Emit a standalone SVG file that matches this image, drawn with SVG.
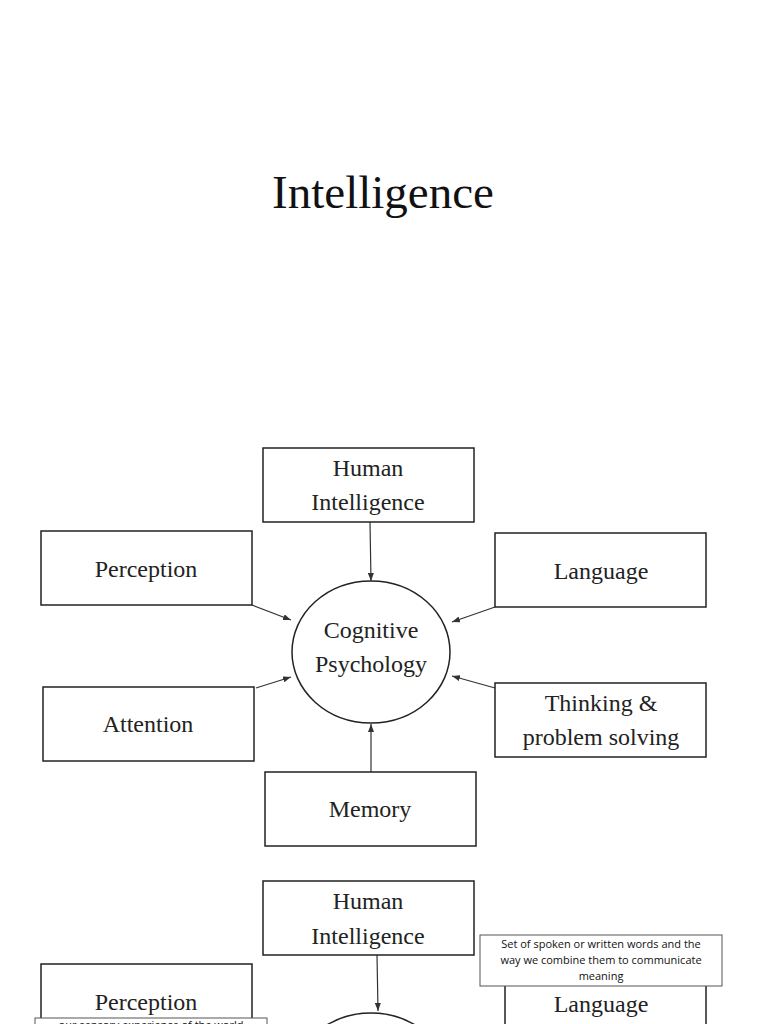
<svg xmlns="http://www.w3.org/2000/svg" width="768" height="1024" viewBox="0 0 768 1024">
<style>
.b{fill:#fff;stroke:#222;stroke-width:1.5}
.t{font-family:"Liberation Serif",serif;font-size:24px;fill:#222;text-anchor:middle}
.s{font-family:"Open Sans","Liberation Sans",sans-serif;font-size:11px;fill:#111;text-anchor:middle}
.c{stroke:#333;stroke-width:1.2;fill:none;marker-end:url(#a)}
</style>
<defs><marker id="a" markerWidth="8" markerHeight="6" refX="8" refY="3" orient="auto" markerUnits="userSpaceOnUse"><path d="M0,0L8,3L0,6z" fill="#333"/></marker></defs>
<rect width="768" height="1024" fill="#fff"/>
<text x="383" y="208" font-family="Liberation Serif,serif" font-size="47" text-anchor="middle" fill="#111">Intelligence</text>
<g id="connectors">
<path class="c" d="M370,522L371,581"/>
<path class="c" d="M252,605L291,620"/>
<path class="c" d="M495,607L452,622"/>
<path class="c" d="M256,688L291,677"/>
<path class="c" d="M495,688L452,676"/>
<path class="c" d="M371,772L371,724"/>
<path class="c" d="M377,955L378,1011"/>
</g>
<g id="hi"><rect class="b" x="263" y="448" width="211" height="74"/><text class="t" x="368" y="476">Human</text><text class="t" x="368" y="510">Intelligence</text></g>
<g id="perception"><rect class="b" x="41" y="531" width="211" height="74"/><text class="t" x="146" y="577">Perception</text></g>
<g id="language"><rect class="b" x="495" y="533" width="211" height="74"/><text class="t" x="601" y="579">Language</text></g>
<g id="cog"><ellipse class="b" stroke-width="2.5" cx="371" cy="652" rx="79" ry="71"/><text class="t" x="371" y="638">Cognitive</text><text class="t" x="371" y="672">Psychology</text></g>
<g id="attention"><rect class="b" x="43" y="687" width="211" height="74"/><text class="t" x="148" y="732">Attention</text></g>
<g id="thinking"><rect class="b" x="495" y="683" width="211" height="74"/><text class="t" x="601" y="711">Thinking &amp;</text><text class="t" x="601" y="745">problem solving</text></g>
<g id="memory"><rect class="b" x="265" y="772" width="211" height="74"/><text class="t" x="370" y="817">Memory</text></g>
<g id="hi2"><rect class="b" x="263" y="881" width="211" height="74"/><text class="t" x="368" y="909">Human</text><text class="t" x="368" y="944">Intelligence</text></g>
<g id="perception2"><rect class="b" x="41" y="964" width="211" height="70"/><text class="t" x="146" y="1010">Perception</text></g>
<g id="language2"><rect class="b" x="505" y="985" width="201" height="50"/><text class="t" x="601" y="1012">Language</text></g>
<g id="cog2"><ellipse class="b" stroke-width="2.5" cx="371" cy="1084" rx="79" ry="71"/></g>
<g id="note1"><rect fill="#fff" stroke="#555" stroke-width="1" x="480" y="935" width="242" height="51"/><text class="s" x="601" y="948">Set of spoken or written words and the</text><text class="s" x="601" y="964">way we combine them to communicate</text><text class="s" x="601" y="980">meaning</text></g>
<g id="note2"><rect fill="#fff" stroke="#555" stroke-width="1" x="35" y="1018" width="232" height="20"/><text class="s" x="151" y="1029">our sensory experience of the world</text></g>
</svg>
